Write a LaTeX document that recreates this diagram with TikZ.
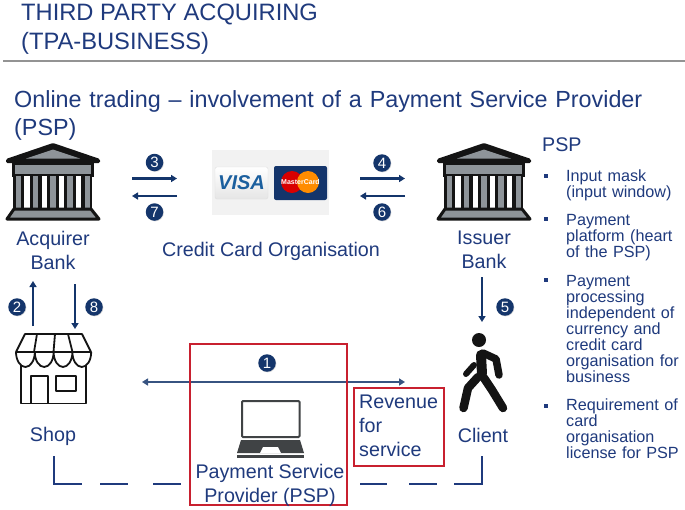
\documentclass[tikz,border=0pt]{standalone}
\usepackage{fontspec}
\setmainfont{Liberation Sans}
\usetikzlibrary{arrows.meta,shadows}
\definecolor{navy}{HTML}{1F3A7D}
\definecolor{deep}{HTML}{14356B}
\definecolor{boxred}{HTML}{C8202F}
\definecolor{iconblk}{HTML}{141414}
\definecolor{icongry}{HTML}{8E9499}
\definecolor{visablue}{HTML}{1B5F9E}
\definecolor{lapgry}{HTML}{404345}
\tikzset{
 x=1pt,y=-1pt,
 lab/.style={text=navy,font=\fontsize{19.7}{24}\selectfont,align=center,inner sep=0pt},
 arr/.style={draw=deep,line width=2.2pt,-{Triangle[length=6pt,width=7pt]}},
 num/.style={circle,fill=deep,text=white,minimum size=17.5pt,inner sep=0pt,font=\fontsize{15}{15}\selectfont,drop shadow={shadow xshift=.6pt,shadow yshift=-.6pt,opacity=.3}},
 redbox/.style={draw=boxred,line width=2pt,fill=none},
 dashline/.style={draw=navy,line width=2pt},
 bul/.style={text=navy,font=\fontsize{16.2}{16}\selectfont,align=left,inner sep=0pt,anchor=north west,text width=122pt},
 sq/.style={fill=navy,minimum size=4.5pt,inner sep=0pt},
 bank/.pic={
  \fill[iconblk,rounded corners=1.5pt] (-47,-21) -- (0,-37) -- (47,-21) -- (47,-17) -- (-47,-17) -- cycle;
  \fill[icongry] (-27,-21.5) -- (0,-30.5) -- (27,-21.5) -- cycle;
  \fill[icongry,draw=iconblk,line width=3pt] (-40,-17) rectangle (39,-5);
  \fill[iconblk] (-40,-5) rectangle (39,29);
  \foreach \a/\c in {-37.3/icongry,-28.7/white,-20.1/icongry,-11.5/white,-2.9/icongry,5.7/white,14.3/icongry,22.9/white,31.5/icongry}{\fill[\c] (\a,-4) rectangle ++(5.4,33);}
  \fill[icongry,draw=iconblk,line width=3pt,line join=round] (-46,39) -- (-39,29) -- (38,29) -- (46,39) -- cycle;
 }
}
\begin{document}
\begin{tikzpicture}
\useasboundingbox (0,0) rectangle (685,509);
\fill[white] (0,0) rectangle (685,509);
\node[text=navy,font=\fontsize{23.7}{29}\selectfont,align=left,anchor=north west,inner sep=0pt] (title) at (21,3.5) {THIRD PARTY ACQUIRING\\(TPA-BUSINESS)};
\fill[gray!85] (3,60) rectangle (685,62);
\node[text=navy,font=\fontsize{23.35}{28.5}\selectfont,align=left,anchor=north west,inner sep=0pt,text width=660pt] (sub) at (14,90) {Online trading – involvement of a Payment Service Provider (PSP)};
% banks
\pic at (53,180) {bank};
\pic at (484,180) {bank};
\node[lab] (acq) at (53,250) {Acquirer\\Bank};
\node[lab] (iss) at (484,250) {Issuer\\Bank};
% cards
\fill[gray!10] (212,150) rectangle (329,215);
\node[top color=white,bottom color=gray!20,draw=gray!25,rounded corners=2pt,minimum width=53pt,minimum height=32pt,inner sep=0pt,text=visablue,font=\bfseries\itshape\fontsize{20}{20}\selectfont] (visa) at (241.5,183) {VISA};
\node[fill=deep,rounded corners=2pt,minimum width=53pt,minimum height=34pt,inner sep=0pt] (mc) at (300.5,183) {};
\fill[red!85!black] (292,182) circle (11pt);
\fill[orange!90!yellow] (308,182) circle (11pt);
\node[text=white,font=\bfseries\fontsize{7}{7}\selectfont,inner sep=0pt] (mct) at (300.5,182) {MasterCard};
\node[lab] (cco) at (271,251) {Credit Card Organisation};
% arrows top
\coordinate (a3s) at (132,178.5); \coordinate (a3e) at (177,178.5);
\coordinate (a7s) at (177,196); \coordinate (a7e) at (132,196);
\coordinate (a4s) at (360,178.5); \coordinate (a4e) at (405,178.5);
\coordinate (a6s) at (405,196); \coordinate (a6e) at (360,196);
\draw[arr] (a3s)--(a3e); \draw[arr] (a7s)--(a7e); \draw[arr] (a4s)--(a4e); \draw[arr] (a6s)--(a6e);
\node[num] (n3) at (154.5,162.5) {3};
\node[num] (n7) at (154.5,212) {7};
\node[num] (n4) at (382,163) {4};
\node[num] (n6) at (382,212) {6};
% vertical
\coordinate (a2s) at (33,326); \coordinate (a2e) at (33,281);
\coordinate (a8s) at (75,284); \coordinate (a8e) at (75,329);
\coordinate (a5s) at (482,277); \coordinate (a5e) at (482,322);
\draw[arr] (a2s)--(a2e); \draw[arr] (a8s)--(a8e); \draw[arr] (a5s)--(a5e);
\node[num] (n2) at (17,307) {2};
\node[num] (n8) at (94,307) {8};
\node[num] (n5) at (505,307) {5};
% shop
\begin{scope}[draw=iconblk,line width=1.8pt,line join=round]
\draw (16,352) -- (25,334) -- (82,334) -- (91,352);
\draw (37,334) -- (34,352) (55,334) -- (53.5,352) (68,334) -- (72.5,352);
\draw (16,352) -- (91,352);
\draw (16,352) arc[start angle=180,end angle=0,x radius=9.4,y radius=15] arc[start angle=180,end angle=0,x radius=9.4,y radius=15] arc[start angle=180,end angle=0,x radius=9.4,y radius=15] arc[start angle=180,end angle=0,x radius=9.4,y radius=15];
\draw (21,365) -- (21,403.5) -- (86,403.5) -- (86,365);
\draw (31,403.5) -- (31,376) -- (48,376) -- (48,403.5);
\draw (56,376) rectangle (76,391);
\end{scope}
\node[lab] (shop) at (53,436) {Shop};
% client
\fill[iconblk] (479,340) circle (7pt);
\begin{scope}[draw=iconblk,line cap=round,line join=round]
\draw[line width=10pt] (481,355) -- (482,374);
\draw[line width=7.5pt] (483,353) -- (496,359) -- (499,375);
\draw[line width=6pt] (474,365) -- (466,374);
\draw[line width=8.5pt] (478,377) -- (468,388) -- (463.5,408);
\draw[line width=8.5pt] (484,378) -- (492,390) -- (503,408);
\end{scope}
\node[lab] (client) at (483,435) {Client};
% arrow 1
\coordinate (a1s) at (405,382); \coordinate (a1e) at (142,382);
\draw[draw=deep!85!white,line width=1.8pt,{Triangle[length=6pt,width=7pt]}-{Triangle[length=6pt,width=7pt]}] (a1s)--(a1e);
\node[num] (n1) at (267,363) {1};
% laptop
\draw[draw=lapgry,line width=2pt,fill=white,rounded corners=1pt] (242,401) rectangle (299.5,437);
\fill[lapgry] (241,440) -- (300,440) -- (304,453) -- (237,453) -- cycle;
\fill[white] (260,453) -- (263,447) -- (278,447) -- (281,453) -- cycle;
\fill[lapgry] (237,455) rectangle (304,458);
% red boxes
\draw[redbox] (190,343.5) rectangle (346.5,505);
\node[lab] (psp) at (270,485) {Payment Service\\Provider (PSP)};
\draw[redbox] (353.5,388) rectangle (444,466);
\node[lab,align=left,anchor=north west] (rev) at (359,394.5) {Revenue\\for\\service};
% dashed
\coordinate (ds) at (54,456); \coordinate (dc) at (54,483.5); \coordinate (d1) at (82,483.5);
\coordinate (e) at (482,456); \coordinate (ec) at (482,483.5); \coordinate (e1) at (454,483.5);
\draw[dashline] (ds)--(dc)--(d1);
\coordinate (p1) at (100,483.5); \coordinate (p2) at (128,483.5); \coordinate (p3) at (153,483.5); \coordinate (p4) at (181,483.5);
\draw[dashline] (p1)--(p2); \draw[dashline] (p3)--(p4);
\coordinate (q1) at (360,483.5); \coordinate (q2) at (387,483.5); \coordinate (q3) at (409,483.5); \coordinate (q4) at (437,483.5);
\draw[dashline] (q1)--(q2); \draw[dashline] (q3)--(q4);
\draw[dashline] (e)--(ec)--(e1);
% right panel
\node[text=navy,font=\fontsize{19.7}{20}\selectfont,anchor=north west,inner sep=0pt] (phead) at (542,138) {PSP};
\foreach \yy/\by/\txt/\nm in {170/176/{Input mask\\(input window)}/b1,
  214/219/{Payment\\platform (heart\\of the PSP)}/b2,
  275/280/{Payment\\processing\\independent of\\currency and\\credit card\\organisation for\\business}/b3,
  399/406/{Requirement of\\card\\organisation\\license for PSP}/b4}{
  \node[bul] (\nm) at (566,\yy) {\txt};
  \node[sq] (s\nm) at (546,\by) {};
}
\end{tikzpicture}
\end{document}
